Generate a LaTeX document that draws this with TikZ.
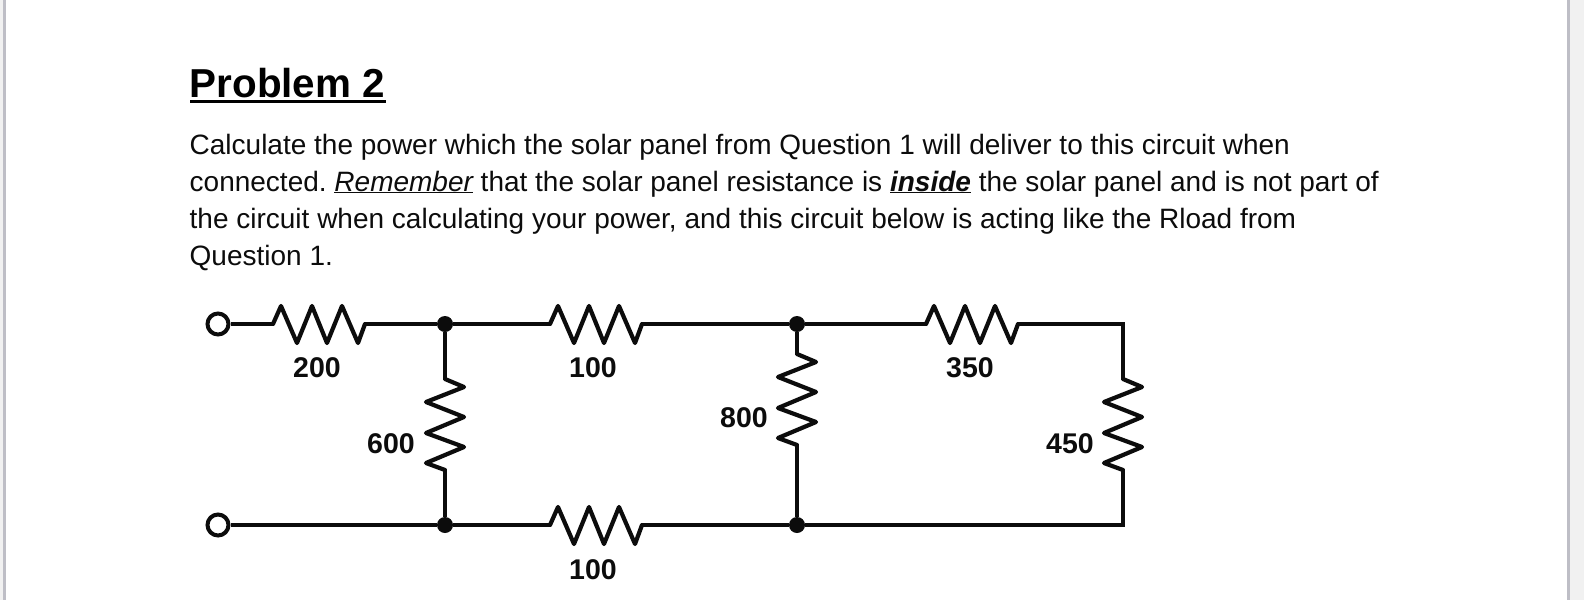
\documentclass[tikz,border=0pt]{standalone}
\usepackage{fontspec}
\setmainfont{Liberation Sans}
\definecolor{edgegray}{RGB}{190,190,198}
\definecolor{sidegray}{RGB}{241,241,241}
\definecolor{ink}{RGB}{12,12,12}
\begin{document}
\begin{tikzpicture}[x=1pt,y=-1pt,
  wire/.style={line width=4.2pt,line join=miter,ink},
  res/.style={line width=4.2pt,line join=round,line cap=round,ink},
  term/.style={circle,draw=ink,fill=white,line width=4pt,minimum size=21pt,inner sep=0pt},
  dotn/.style={circle,fill=ink,minimum size=16pt,inner sep=0pt},
  val/.style={font=\fontsize{28.5}{28.5}\selectfont\bfseries,text=ink,inner sep=0pt,anchor=center},
  bodyt/.style={font=\fontsize{28}{28}\selectfont\frenchspacing,text=ink,inner sep=0pt,anchor=base west}]
\useasboundingbox (0,0) rectangle (1584,600);
\fill[white] (0,0) rectangle (1584,600);
\fill[sidegray] (0,0) rectangle (3.3,600);
\fill[sidegray] (1570,0) rectangle (1584,600);
\fill[edgegray] (3.3,0) rectangle (6.3,600);
\fill[edgegray] (1567,0) rectangle (1570,600);
% text
\node[bodyt,font=\fontsize{40.4}{40.4}\selectfont\bfseries,text=black] (title) at (189.5,97) {Problem 2};
\draw[line width=3pt,black] (190,101) -- (386,101);
\node[bodyt] (l1) at (189.5,154) {Calculate the power which the solar panel from Question 1 will deliver to this circuit when};
\node[bodyt] (l2) at (189.5,191) {connected. \underline{\itshape Remember} that the solar panel resistance is \underline{\bfseries\itshape inside} the solar panel and is not part of};
\node[bodyt] (l3) at (189.5,228) {the circuit when calculating your power, and this circuit below is acting like the Rload from};
\node[bodyt] (l4) at (189.5,265) {Question 1.};
% nodes
\node[term] (t1) at (218,324) {};
\node[term] (t2) at (218,525) {};
\node[dotn] (j1) at (445,324) {};
\node[dotn] (j2) at (445,525) {};
\node[dotn] (j3) at (797,324) {};
\node[dotn] (j4) at (797,525) {};
\coordinate (c1) at (1123,324);
\coordinate (c2) at (1123,525);
% wires
\draw[wire] (t2) -- (j2) -- (j4) -- (c2) -- (c1) -- (j3) -- (j1) -- (t1);
\draw[wire] (j1) -- (j2);
\draw[wire] (j3) -- (j4);
\foreach \ox in {0,277,653}{
 \fill[white] (273+\ox,312) rectangle (365+\ox,336);
 \draw[res] (273+\ox,324) -- (281+\ox,306) -- (297+\ox,343) -- (312+\ox,306) -- (327+\ox,343) -- (342+\ox,306) -- (358+\ox,343) -- (365+\ox,324);
}
\foreach \ox/\oy in {0/0,352/-25,678/0}{
 \fill[white] (435+\ox,379+\oy) rectangle (455+\ox,470+\oy);
 \draw[res] (445+\ox,379+\oy) -- (464+\ox,387+\oy) -- (426+\ox,402+\oy) -- (464+\ox,417+\oy) -- (426+\ox,433+\oy) -- (464+\ox,447+\oy) -- (426+\ox,463+\oy) -- (445+\ox,470+\oy);
}
\fill[white] (550,513) rectangle (642,537);
\draw[res] (550,525) -- (558,507) -- (574,544) -- (589,507) -- (604,544) -- (619,507) -- (635,544) -- (642,525);
% labels
\node[val] (v200) at (317,368) {200};
\node[val] (v100a) at (593,368) {100};
\node[val] (v350) at (970,368) {350};
\node[val] (v600) at (391,444) {600};
\node[val] (v800) at (744,418) {800};
\node[val] (v450) at (1070,444) {450};
\node[val] (v100b) at (593,570) {100};
\end{tikzpicture}
\end{document}
